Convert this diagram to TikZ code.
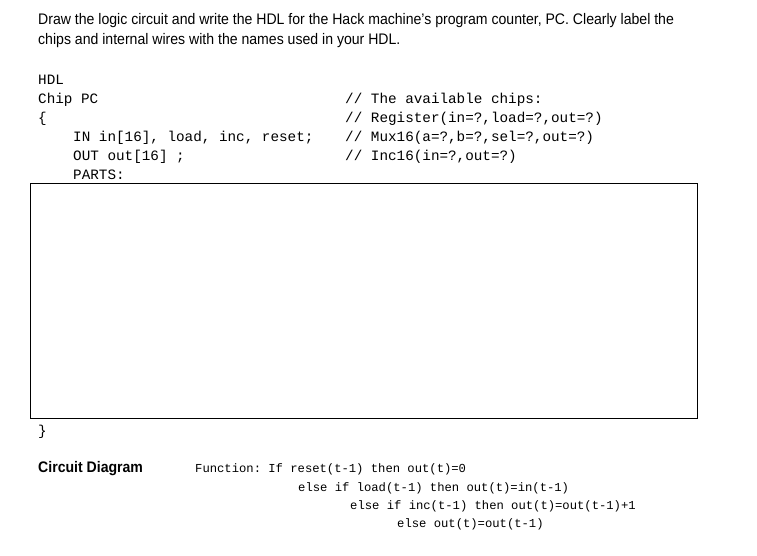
\documentclass[tikz,border=0pt]{standalone}
\usepackage{fontspec}
\setmainfont{Liberation Sans}
\setmonofont{Liberation Mono}
\begin{document}
\begin{tikzpicture}[x=1pt,y=-1pt,
  title/.style={anchor=base west,inner sep=0pt,font=\fontsize{15.3}{17}\selectfont},
  code/.style={anchor=base west,inner sep=0pt,font=\ttfamily\fontsize{14.3}{16}\selectfont},
  fcode/.style={anchor=base west,inner sep=0pt,font=\ttfamily\fontsize{12.2}{14}\selectfont}]
\useasboundingbox[fill=white] (0,0) rectangle (757,556);
\node[title] (t1) at (38,25) {\addfontfeatures{FakeStretch=0.92}Draw the logic circuit and write the HDL for the Hack machine's program counter, PC. Clearly label the};
\node[title] (t2) at (38,45) {\addfontfeatures{FakeStretch=0.92}chips and internal wires with the names used in your HDL.};
\node[code] (h) at (38,85) {HDL};
\node[code] (c1) at (38,104) {Chip PC};
\node[code] (c2) at (38,123) {\{};
\node[code] (c3) at (73,142) {IN in[16], load, inc, reset;};
\node[code] (c4) at (73,161) {OUT out[16] ;};
\node[code] (c5) at (73,180) {PARTS:};
\node[code] (r1) at (345,104) {// The available chips:};
\node[code] (r2) at (345,123) {// Register(in=?,load=?,out=?)};
\node[code] (r3) at (345,142) {// Mux16(a=?,b=?,sel=?,out=?)};
\node[code] (r4) at (345,161) {// Inc16(in=?,out=?)};
\node[draw,thick,minimum width=667,minimum height=235,anchor=north west,inner sep=0pt] (box) at (30,183) {};
\node[code] (c6) at (38,435) {\}};
\node[title,font=\bfseries\fontsize{15.3}{17}\selectfont] (cd) at (38,472) {\addfontfeatures{FakeStretch=0.92}Circuit Diagram};
\node[fcode] (f1) at (195,472) {Function: If reset(t-1) then out(t)=0};
\node[fcode] (f2) at (298,491) {else if load(t-1) then out(t)=in(t-1)};
\node[fcode] (f3) at (350,509) {else if inc(t-1) then out(t)=out(t-1)+1};
\node[fcode] (f4) at (397,527) {else out(t)=out(t-1)};
\end{tikzpicture}
\end{document}
